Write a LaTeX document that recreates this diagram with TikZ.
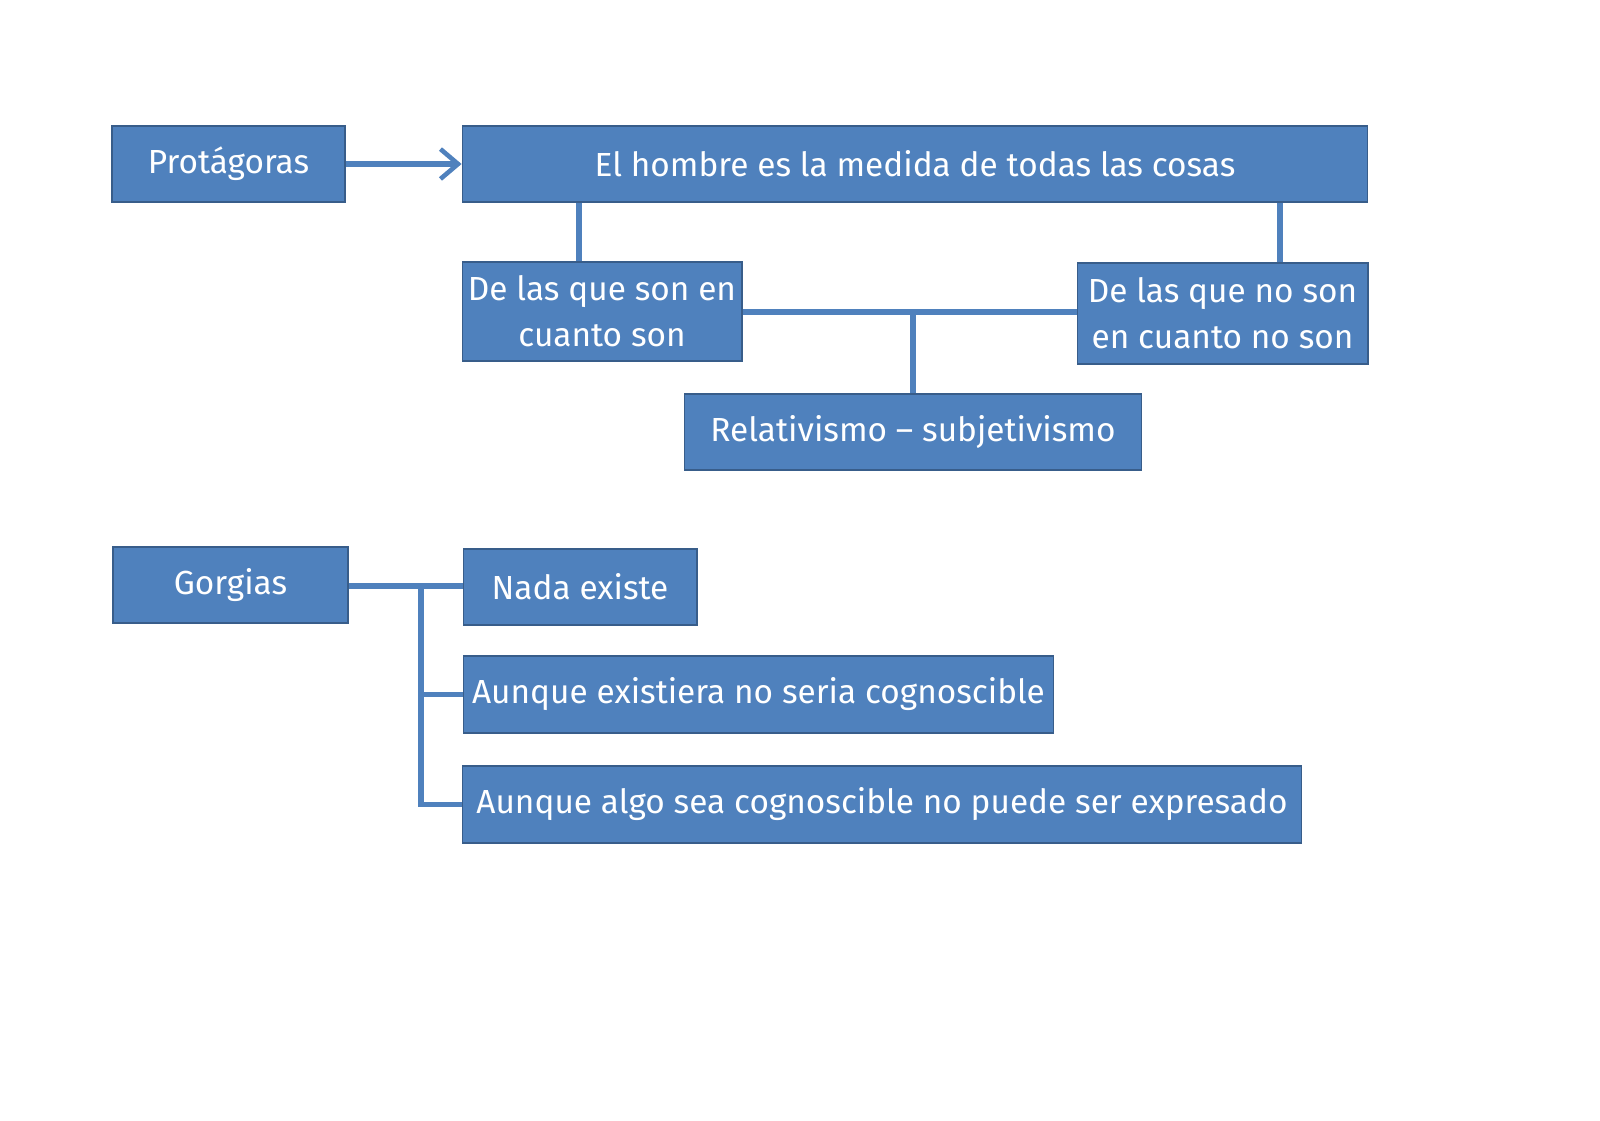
\documentclass[tikz,border=0pt]{standalone}
\usepackage{fontspec}
\setmainfont{Fira Sans}
\usepackage{tikz}
\usetikzlibrary{arrows.meta,positioning,calc}
\definecolor{boxblue}{HTML}{4F81BD}
\definecolor{boxedge}{HTML}{385D8A}
\tikzset{
  idea/.style={rectangle,draw=boxedge,fill=boxblue,text=white,line width=0.6pt,
    minimum height=1.52cm,align=center,inner sep=2pt,
    font=\fontsize{19}{26}\selectfont},
  link/.style={draw=boxblue,line width=3pt},
  linkarrow/.style={link,-{Straight Barb[length=10pt,width=17pt,line width=2.6pt]}},
}
\begin{document}
\begin{tikzpicture}[x=0.02cm,y=-0.02cm]
  \useasboundingbox[fill=white] (0,0) rectangle (1600,1120);
  % Protagoras
  \node[idea,minimum width=4.66cm] (prota) at (228.5,164) {Protágoras};
  \node[idea,minimum width=18.12cm] (hombre) at (915,164) {El hombre es la medida de todas las cosas};
  \node[idea,minimum width=5.6cm,minimum height=1.98cm] (son) at (602,311.5) {De las que son en\\cuanto son};
  \node[idea,minimum width=5.82cm,minimum height=2.02cm] (noson) at (1222.5,313.5) {De las que no son\\en cuanto no son};
  \node[idea,minimum width=9.16cm] (relat) at (913,432) {Relativismo – subjetivismo};
  \draw[linkarrow] (prota) -- (hombre);
  \draw[link] ([xshift=-0.46cm]son.north) -- ([xshift=-0.46cm]son.north |- hombre.south);
  \draw[link] ([xshift=1.15cm]noson.north) -- ([xshift=1.15cm]noson.north |- hombre.south);
  \coordinate (jn) at (913,312);
  \draw[link] (son.east |- jn) -- (noson.west |- jn);
  \draw[link] (jn) -- (relat.north);
  % Gorgias
  \node[idea,minimum width=4.7cm] (gorgias) at (230.5,585) {Gorgias};
  \node[idea,minimum width=4.68cm] (nada) at (580,587) {Nada existe};
  \node[idea,minimum width=11.82cm,minimum height=1.54cm] (exist) at (758.5,694.5) {Aunque existiera no seria cognoscible};
  \node[idea,minimum width=16.8cm,minimum height=1.54cm] (algo) at (882,804.5) {Aunque algo sea cognoscible no puede ser expresado};
  \coordinate (bus) at (421,586);
  \draw[link] (gorgias.east |- bus) -- (nada.west |- bus);
  \draw[link] (bus) |- (algo.west);
  \draw[link] (bus |- exist.west) -- (exist.west);
\end{tikzpicture}
\end{document}
